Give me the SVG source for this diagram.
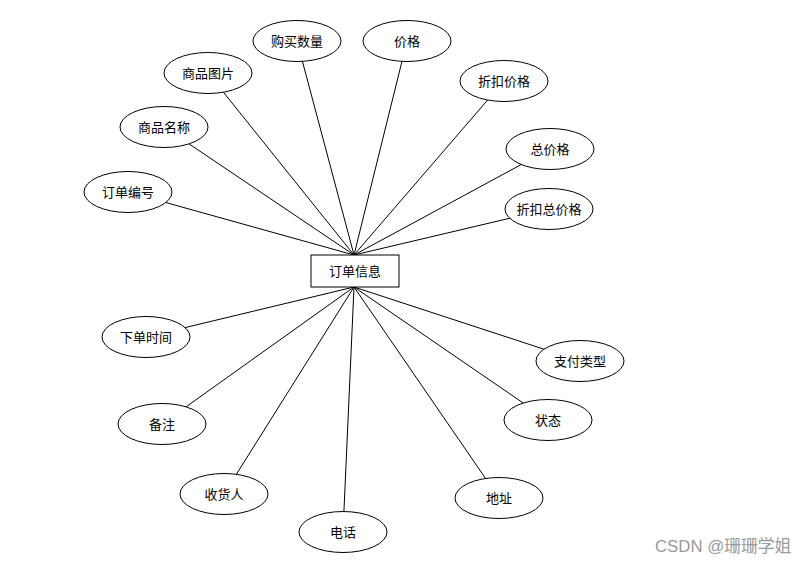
<svg xmlns="http://www.w3.org/2000/svg" width="806" height="564" viewBox="0 0 806 564">
<style>
.n ellipse{fill:#fff;stroke:#000;stroke-width:1}
.n rect{fill:#fff;stroke:#000;stroke-width:1}
.n text{font-family:"Liberation Sans","Noto Sans CJK SC",sans-serif;font-size:13px;fill:#000;text-anchor:middle;dominant-baseline:central}
#edges line{stroke:#000;stroke-width:1}
.wm{font-family:"Liberation Sans","Noto Sans CJK SC",sans-serif;font-size:16.8px;fill:#999}
</style>
<rect width="806" height="564" fill="#fff"/>
<g id="edges">
<line x1="354" y1="255" x2="297" y2="41"/>
<line x1="354" y1="255" x2="407" y2="41"/>
<line x1="354" y1="255" x2="208" y2="73"/>
<line x1="354" y1="255" x2="504" y2="81"/>
<line x1="354" y1="255" x2="164" y2="127"/>
<line x1="354" y1="255" x2="550" y2="149"/>
<line x1="354" y1="255" x2="128" y2="192"/>
<line x1="354" y1="255" x2="549" y2="209"/>
<line x1="354" y1="287" x2="146" y2="337"/>
<line x1="354" y1="287" x2="580" y2="361"/>
<line x1="354" y1="287" x2="162" y2="424"/>
<line x1="354" y1="287" x2="548" y2="420"/>
<line x1="354" y1="287" x2="224" y2="494"/>
<line x1="354" y1="287" x2="499" y2="498"/>
<line x1="354" y1="287" x2="343" y2="532"/>
</g>
<g id="center" class="n"><rect x="311" y="255" width="88" height="32"/><text x="355" y="271">订单信息</text></g>
<g id="n1" class="n"><ellipse cx="297" cy="41" rx="44" ry="20.5"/><text x="297" y="41">购买数量</text></g>
<g id="n2" class="n"><ellipse cx="407" cy="41" rx="44" ry="20.5"/><text x="407" y="41">价格</text></g>
<g id="n3" class="n"><ellipse cx="208" cy="73" rx="44" ry="20.5"/><text x="208" y="73">商品图片</text></g>
<g id="n4" class="n"><ellipse cx="504" cy="81" rx="44" ry="20.5"/><text x="504" y="81">折扣价格</text></g>
<g id="n5" class="n"><ellipse cx="164" cy="127" rx="44" ry="20.5"/><text x="164" y="127">商品名称</text></g>
<g id="n6" class="n"><ellipse cx="550" cy="149" rx="44" ry="20.5"/><text x="550" y="149">总价格</text></g>
<g id="n7" class="n"><ellipse cx="128" cy="192" rx="44" ry="20.5"/><text x="128" y="192">订单编号</text></g>
<g id="n8" class="n"><ellipse cx="549" cy="209" rx="44" ry="20.5"/><text x="549" y="209">折扣总价格</text></g>
<g id="n9" class="n"><ellipse cx="146" cy="337" rx="44" ry="20.5"/><text x="146" y="337">下单时间</text></g>
<g id="n10" class="n"><ellipse cx="580" cy="361" rx="44" ry="20.5"/><text x="580" y="361">支付类型</text></g>
<g id="n11" class="n"><ellipse cx="162" cy="424" rx="44" ry="20.5"/><text x="162" y="424">备注</text></g>
<g id="n12" class="n"><ellipse cx="548" cy="420" rx="44" ry="20.5"/><text x="548" y="420">状态</text></g>
<g id="n13" class="n"><ellipse cx="224" cy="494" rx="44" ry="20.5"/><text x="224" y="494">收货人</text></g>
<g id="n14" class="n"><ellipse cx="499" cy="498" rx="44" ry="20.5"/><text x="499" y="498">地址</text></g>
<g id="n15" class="n"><ellipse cx="343" cy="532" rx="44" ry="20.5"/><text x="343" y="532">电话</text></g>
<text class="wm" x="655" y="552">CSDN @珊珊学姐</text>
</svg>
